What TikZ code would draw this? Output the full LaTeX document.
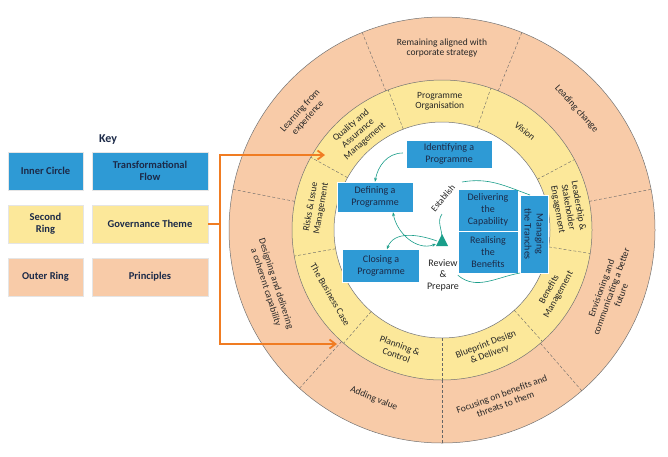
\documentclass[tikz,border=0pt]{standalone}
\usepackage{fontspec}
\setmainfont{Carlito}
\usetikzlibrary{arrows.meta}
\definecolor{peach}{HTML}{F8CBA8}
\definecolor{yel}{HTML}{FCE89A}
\definecolor{blu}{HTML}{2E9AD5}
\definecolor{navy}{HTML}{1C2A48}
\definecolor{teal}{HTML}{1A9E8A}
\definecolor{org}{HTML}{F07C22}
\tikzset{
  keybox/.style={draw=white!80!gray, minimum width=75pt, minimum height=38pt, font=\fontsize{10.5}{12}\selectfont\bfseries, text=navy, align=center, inner sep=1pt},
  inbox/.style={fill=blu, draw=white, text=navy, align=center, font=\fontsize{10}{12}\selectfont, inner sep=1pt},
  ringtxt/.style={align=center, font=\fontsize{9.5}{10.5}\selectfont, text=black!85},
  divider/.style={densely dashed, black!60, line width=0.4pt},
  flow/.style={teal, line width=0.6pt, -{Stealth[length=4pt]}},
  orarrow/.style={org, line width=1.8pt, -{Straight Barb[length=6pt,width=9pt]}}
}
\begin{document}
\begin{tikzpicture}[x=1pt,y=1pt]
\useasboundingbox (0,0) rectangle (668,-456);
% rings
\begin{scope}[shift={(442,-230)}]
\coordinate (c) at (0,0);
\fill[peach] (0,0) circle (213);
\draw[black!55, line width=0.5pt] (0,0) circle (213);
\fill[yel] (0,0) circle (150);
\draw[black!55, line width=0.5pt] (0,0) circle (150);
\fill[white] (0,0) circle (108);
\draw[black!55, line width=0.5pt] (0,0) circle (108);
\foreach \a in {11,68,112,169,228,270,311} \draw[divider] (\a:150) -- (\a:213);
\foreach \a in {28,71,111,151,190,229,270,312,351} \draw[divider] (\a:108) -- (\a:150);
% outer labels
\node[ringtxt] (o1) at (90:182) {Remaining aligned with\\corporate strategy};
\node[ringtxt, rotate=-48] (o2) at (42:181) {Leading change};
\node[ringtxt, rotate=70] (o3) at (340:180) {Envisioning and\\communicating a better\\future};
\node[ringtxt, rotate=20] (o4) at (290:180) {Focusing on benefits and\\threats to them};
\node[ringtxt, rotate=-22] (o5) at (248:182) {Adding value};
\node[ringtxt, rotate=-72] (o6) at (198:180) {Designing and delivering\\a coherent capability};
\node[ringtxt, rotate=48] (o7) at (140:180) {Learning from\\experience};
% second ring labels
\node[ringtxt] (s1) at (91:129) {Programme\\Organisation};
\node[ringtxt, rotate=-40] (s2) at (50:129) {Vision};
\node[ringtxt, rotate=-80] (s3) at (10:128) {Leadership \&\\Stakeholder\\Engagement};
\node[ringtxt, rotate=61] (s4) at (331:128) {Benefits\\Management};
\node[ringtxt, rotate=21] (s5) at (291:128) {Blueprint Design\\\& Delivery};
\node[ringtxt, rotate=-20] (s6) at (250:128) {Planning \&\\Control};
\node[ringtxt, rotate=-60] (s7) at (210:129) {The Business Case};
\node[ringtxt, rotate=80] (s8) at (170:128) {Risks \& Issue\\Management};
\node[ringtxt, rotate=41] (s9) at (131:128) {Quality and\\Assurance\\Management};
\end{scope}
% inner boxes
\node[inbox, minimum width=86pt, minimum height=28pt] (ident) at (449,-154) {Identifying a\\Programme};
\node[inbox, minimum width=76pt, minimum height=30pt] (def) at (375,-197) {Defining a\\Programme};
\node[inbox, minimum width=77pt, minimum height=33pt] (close) at (381,-266) {Closing a\\Programme};
\node[inbox, minimum width=60pt, minimum height=42pt] (deliv) at (488,-210) {Delivering\\the\\Capability};
\node[inbox, minimum width=60pt, minimum height=42pt] (real) at (488,-252) {Realising\\the\\Benefits};
\node[inbox, minimum width=78pt, minimum height=28pt, rotate=-90] (manage) at (534,-234) {Managing\\the Tranches};
\fill[teal] (436,-246) -- (442,-234) -- (448,-246) -- cycle;
\coordinate (tri) at (442,-238);
\node[ringtxt, font=\fontsize{10}{11.5}\selectfont] (rev) at (443,-275) {Review\\\&\\Prepare};
\node[ringtxt, font=\fontsize{9}{10}\selectfont, rotate=50] (est) at (443,-198) {Establish};
% flows
\draw[flow] (ident.west) ++(-3,1) to[out=180,in=80] (def.north);
\draw[flow, {Stealth[length=4pt]}-{Stealth[length=4pt]}] ([xshift=18pt]def.south) to[out=-80,in=200] (436,-244);
\draw[flow] (437,-241) to[out=160,in=70] ([xshift=6pt]close.north);
\draw[teal, line width=0.6pt] (tri) to[out=90,in=235] (442,-214);
\draw[teal, line width=0.6pt] (462,-182) to[out=10,in=160] (530,-195);
\draw[teal, line width=0.6pt] (real.south west) ++(0,-2) to[out=-40,in=190] (520,-273);
% key
\node[font=\fontsize{12}{14}\selectfont\bfseries, text=navy] (key) at (108,-140) {Key};
\node[keybox, fill=blu] (k1) at (45.5,-171) {Inner Circle};
\node[keybox, fill=yel] (k2) at (45.5,-224) {Second\\Ring};
\node[keybox, fill=peach] (k3) at (45.5,-277) {Outer Ring};
\node[keybox, fill=blu, minimum width=116pt] (k4) at (150,-171) {Transformational\\Flow};
\node[keybox, fill=yel, minimum width=116pt] (k5) at (150,-224) {Governance Theme};
\node[keybox, fill=peach, minimum width=116pt] (k6) at (150,-277) {Principles};
% orange arrows
\coordinate (oj) at (220,-224);
\coordinate (ot) at (325,-155);
\coordinate (ob) at (337,-344);
\draw[org, line width=1.8pt] (k5.east) -- (oj);
\draw[orarrow] (oj) |- (ot);
\draw[orarrow] (oj) |- (ob);
\end{tikzpicture}
\end{document}
